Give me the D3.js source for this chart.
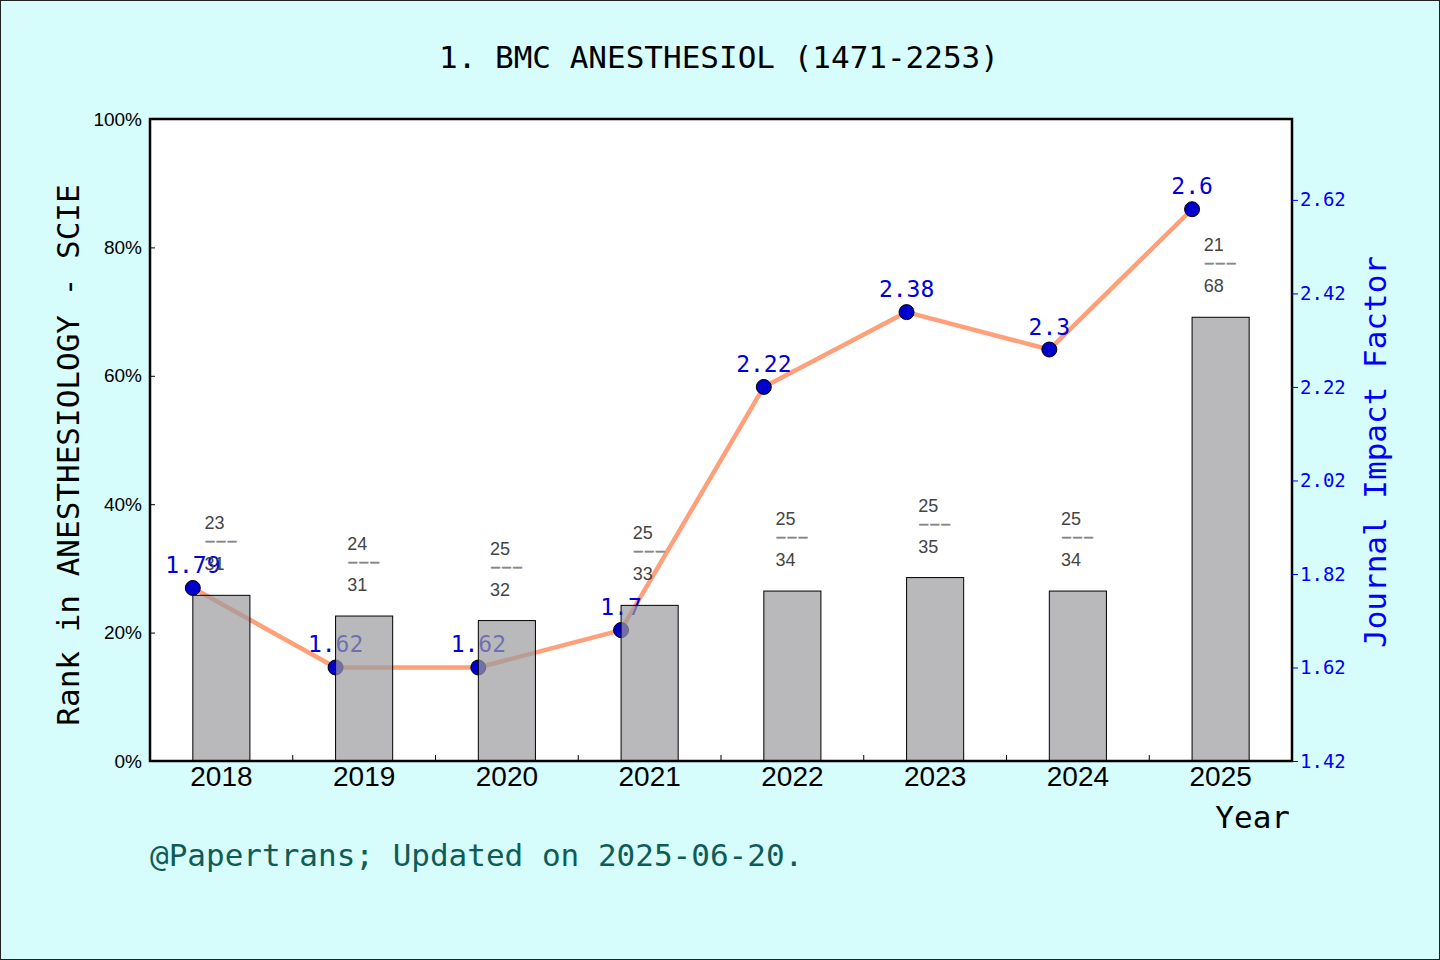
<!DOCTYPE html>
<html>
<head>
<meta charset="utf-8">
<script src="https://cdn.jsdelivr.net/npm/d3@7"></script>
<style>
  html, body { margin: 0; padding: 0; background: #d6fcfc; }
  svg { display: block; }
</style>
</head>
<body>
<svg id="chart" width="1440" height="960"></svg>
<script>
var years = ["2018", "2019", "2020", "2021", "2022", "2023", "2024", "2025"];
var ranks = [23, 24, 25, 25, 25, 25, 25, 21];
var totals = [31, 31, 32, 33, 34, 35, 34, 68];
var impact = [1.79, 1.62, 1.62, 1.7, 2.22, 2.38, 2.3, 2.6];
var impactLabels = ["1.79", "1.62", "1.62", "1.7", "2.22", "2.38", "2.3", "2.6"];
var pctTicks = [0, 0.2, 0.4, 0.6, 0.8, 1];
var jifTicks = [1.42, 1.62, 1.82, 2.02, 2.22, 2.42, 2.62];

var mono = "'DejaVu Sans Mono', 'Liberation Mono', monospace",
    sans = "'Liberation Sans', Arial, sans-serif";

var svg = d3.select("#chart"),
    width = +svg.attr("width"),
    height = +svg.attr("height");

var margin = {top: 119, right: 148, bottom: 199, left: 150};
var plotW = width - margin.left - margin.right,
    plotH = height - margin.top - margin.bottom;

// page background + thin border
svg.append("rect")
    .attr("x", 0.5).attr("y", 0.5)
    .attr("width", width - 1).attr("height", height - 1)
    .attr("fill", "#d6fcfc")
    .attr("stroke", "#222")
    .attr("stroke-width", 1);

var x = d3.scaleBand().domain(years).range([0, plotW]);
var yPct = d3.scaleLinear().domain([0, 1]).range([plotH, 0]);
var yJif = d3.scaleLinear().domain([1.42, 2.793]).range([plotH, 0]);

var g = svg.append("g")
    .attr("transform", "translate(" + margin.left + "," + margin.top + ")");

g.append("rect")
    .attr("width", plotW).attr("height", plotH)
    .attr("fill", "#fff");

// impact factor line + points (drawn under the bars)
var px = function(d, i) { return x(years[i]) + x.bandwidth() * 0.3; };

g.append("path")
    .datum(impact)
    .attr("fill", "none")
    .attr("stroke", "#ffa07a")
    .attr("stroke-width", 4.5)
    .attr("stroke-linejoin", "round")
    .attr("d", d3.line().x(px).y(function(d) { return yJif(d); }));

g.selectAll(".pt")
    .data(impact)
    .enter().append("circle")
    .attr("class", "pt")
    .attr("cx", px)
    .attr("cy", function(d) { return yJif(d); })
    .attr("r", 7.5)
    .attr("fill", "#0000cc")
    .attr("stroke", "#000")
    .attr("stroke-width", 1);

g.selectAll(".jiflab")
    .data(impact)
    .enter().append("text")
    .attr("class", "jiflab")
    .attr("x", px)
    .attr("y", function(d) { return yJif(d) - 15; })
    .attr("text-anchor", "middle")
    .attr("font-family", mono)
    .attr("font-size", 23)
    .attr("fill", "#0000dd")
    .text(function(d, i) { return impactLabels[i]; });

// rank bars: share of journals ranked below
var share = ranks.map(function(r, i) { return 1 - r / totals[i]; });

g.selectAll(".bar")
    .data(share)
    .enter().append("rect")
    .attr("class", "bar")
    .attr("x", function(d, i) { return x(years[i]) + x.bandwidth() * 0.3; })
    .attr("width", x.bandwidth() * 0.4)
    .attr("y", function(d) { return yPct(d); })
    .attr("height", function(d) { return plotH - yPct(d); })
    .attr("fill", "rgba(156,157,159,0.71)")
    .attr("stroke", "#000")
    .attr("stroke-width", 1);

// rank fraction labels
var frac = g.selectAll(".frac")
    .data(share)
    .enter().append("g")
    .attr("class", "frac")
    .attr("transform", function(d, i) {
        return "translate(" + (x(years[i]) + x.bandwidth() / 2 - 17) + "," + yPct(d) + ")";
    })
    .attr("font-family", sans)
    .attr("font-size", 18);

frac.append("text")
    .attr("y", -66)
    .attr("fill", "#444")
    .text(function(d, i) { return ranks[i]; });
frac.append("text")
    .attr("y", -49)
    .attr("font-size", 16)
    .attr("fill", "#888")
    .attr("stroke", "#888")
    .attr("stroke-width", 0.6)
    .attr("textLength", 33)
    .attr("lengthAdjust", "spacingAndGlyphs")
    .text("---");
frac.append("text")
    .attr("y", -25)
    .attr("fill", "#444")
    .text(function(d, i) { return totals[i]; });

// frame
g.append("rect")
    .attr("width", plotW).attr("height", plotH)
    .attr("fill", "none")
    .attr("stroke", "#000")
    .attr("stroke-width", 2.5);

// left axis: ticks inside
g.append("g")
    .call(d3.axisLeft(yPct).tickValues(pctTicks).tickSizeInner(-5).tickSizeOuter(0)
        .tickPadding(8).tickFormat(d3.format(".0%")))
    .call(function(s) {
        s.select(".domain").remove();
        s.selectAll("text").attr("font-family", sans).attr("font-size", 19).attr("fill", "#000");
        s.selectAll("line").attr("stroke", "#000");
    });

// bottom axis: year labels, minor ticks at band edges
g.append("g")
    .attr("transform", "translate(0," + plotH + ")")
    .call(d3.axisBottom(x).tickSize(0).tickPadding(5))
    .call(function(s) {
        s.select(".domain").remove();
        s.selectAll("text").attr("font-family", sans).attr("font-size", 28).attr("fill", "#000");
    });

g.selectAll(".xminor")
    .data(years.slice(1))
    .enter().append("line")
    .attr("class", "xminor")
    .attr("x1", function(d) { return x(d); })
    .attr("x2", function(d) { return x(d); })
    .attr("y1", plotH)
    .attr("y2", plotH - 6)
    .attr("stroke", "#000");

// right axis: impact factor
g.append("g")
    .attr("transform", "translate(" + plotW + ",0)")
    .call(d3.axisRight(yJif).tickValues(jifTicks).tickSize(6).tickPadding(2)
        .tickFormat(d3.format(".2f")))
    .call(function(s) {
        s.select(".domain").remove();
        s.selectAll("text").attr("font-family", mono).attr("font-size", 19).attr("fill", "#0000ff");
        s.selectAll("line").attr("stroke", "#0000ff");
    });

// titles
svg.append("text")
    .attr("x", 719).attr("y", 68)
    .attr("text-anchor", "middle")
    .attr("font-family", mono)
    .attr("font-size", 31)
    .attr("fill", "#000")
    .text("1. BMC ANESTHESIOL (1471-2253)");

svg.append("text")
    .attr("transform", "translate(79,455) rotate(-90)")
    .attr("text-anchor", "middle")
    .attr("font-family", mono)
    .attr("font-size", 31)
    .attr("fill", "#000")
    .text("Rank in ANESTHESIOLOGY - SCIE");

svg.append("text")
    .attr("transform", "translate(1386,452) rotate(-90)")
    .attr("text-anchor", "middle")
    .attr("font-family", mono)
    .attr("font-size", 31)
    .attr("fill", "#0000ff")
    .text("Journal Impact Factor");

svg.append("text")
    .attr("x", 1290).attr("y", 828)
    .attr("text-anchor", "end")
    .attr("font-family", mono)
    .attr("font-size", 31)
    .attr("fill", "#000")
    .text("Year");

svg.append("text")
    .attr("x", 150).attr("y", 866)
    .attr("font-family", mono)
    .attr("font-size", 31)
    .attr("fill", "#0f5c57")
    .text("@Papertrans; Updated on 2025-06-20.");
</script>
</body>
</html>
